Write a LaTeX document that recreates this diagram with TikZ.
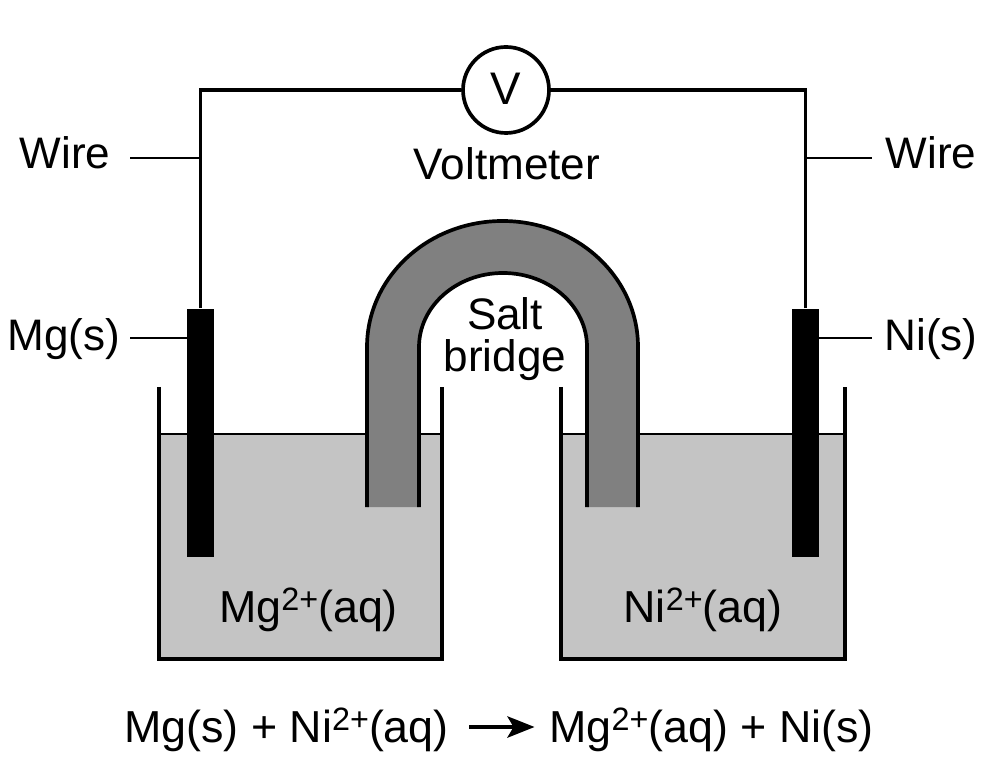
\documentclass[tikz,border=0pt]{standalone}
\usepackage{fontspec}
\setmainfont{Liberation Sans}
\usepackage{xcolor}
\usepackage{tikz}
\usetikzlibrary{arrows.meta,calc}
\definecolor{liquid-gray}{RGB}{196,196,196}
\definecolor{bridge-gray}{RGB}{128,128,128}
\tikzstyle{wall}=[line width=1.05pt]
\tikzstyle{label}=[inner sep=0pt, font=\fontsize{12.55}{13}\selectfont]
\tikzstyle{bigger}=[label, font=\fontsize{12.75}{13}\selectfont]
\tikzstyle{leader}=[line width=0.5pt]
\tikzstyle{rod}=[fill=black, draw=none, inner sep=0pt, minimum width=.27cm, minimum height=2.48cm]
\newcommand{\ionup}{\raisebox{.5ex}{\fontsize{9.2}{10}\selectfont 2+}}
\newcommand{\beaker}[2]{
	\fill[liquid-gray] (#1,1.12) rectangle (#2,3.37);
	\draw[line width=0.5pt] (#1,3.37) -- (#2,3.37);
	\draw[wall] (#1,3.84) -- (#1,1.12) -- (#2,1.12) -- (#2,3.84);
}
\begin{document}
\begin{tikzpicture}
	\useasboundingbox (0,0) rectangle (10,7.71);
	\beaker{1.59}{4.42}
	\beaker{5.61}{8.45}
	% salt bridge
	\fill[bridge-gray] (3.67,2.64) -- (3.67,4.24) arc (180:0:1.355 and 1.26) -- (6.38,2.64) -- (5.87,2.64) -- (5.87,4.24) arc (0:180:.84 and .74) -- (4.19,2.64) -- cycle;
	\draw[wall] (3.67,2.64) -- (3.67,4.24) arc (180:0:1.355 and 1.26) -- (6.38,2.64);
	\draw[wall] (4.19,2.64) -- (4.19,4.24) arc (180:0:.84 and .74) -- (5.87,2.64);
	% electrodes and circuit
	\node[rod] (mgrod) at (2.005,3.38) {};
	\node[rod] (nirod) at (8.055,3.38) {};
	\node[circle, draw, wall, fill=white, minimum size=.86cm, inner sep=0pt, font=\fontsize{13}{14}\selectfont] (meter) at (5.06,6.81) {\raisebox{.03cm}{V}};
	\draw[wall] (mgrod.north) |- (meter.west);
	\draw[wall] (nirod.north) |- (meter.east);
	\node[label] (voltmeter) at (5.07,6.07) {Voltmeter};
	\node[label] (saltlabel) at (5.05,4.57) {Salt};
	\node[label] (bridgelabel) at (5.05,4.11) {bridge};
	% labels with leaders
	\node[label] (wireleft) at (.65,6.18) {Wire};
	\node[label] (wireright) at (9.31,6.18) {Wire};
	\node[label] (mglabel) at (.64,4.32) {Mg(s)};
	\node[label] (nilabel) at (9.31,4.32) {Ni(s)};
	\coordinate (wireleftend) at (2.0,6.13);
	\coordinate (wirerightend) at (8.06,6.13);
	\coordinate (mgend) at (1.87,4.33);
	\coordinate (niend) at (8.19,4.33);
	\draw[leader] (1.3,6.13) -- (wireleftend);
	\draw[leader] (wirerightend) -- (8.72,6.13);
	\draw[leader] (1.3,4.33) -- (mgend);
	\draw[leader] (niend) -- (8.72,4.33);
	% ions and reaction
	\node[bigger] (mgion) at (3.085,1.61) {Mg\ionup(aq)};
	\node[bigger] (niion) at (7.03,1.61) {Ni\ionup(aq)};
	\node[bigger] (lhs) at (2.865,.41) {Mg(s) + Ni\ionup(aq)};
	\node[bigger] (rhs) at (7.115,.41) {Mg\ionup(aq) + Ni(s)};
	\draw[line width=1.4pt, -{Stealth[length=.27cm,width=.21cm,inset=.06cm]}, shorten <=.2cm, shorten >=.14cm] (lhs.east |- 0,.44) -- (rhs.west |- 0,.44);
\end{tikzpicture}
\end{document}
